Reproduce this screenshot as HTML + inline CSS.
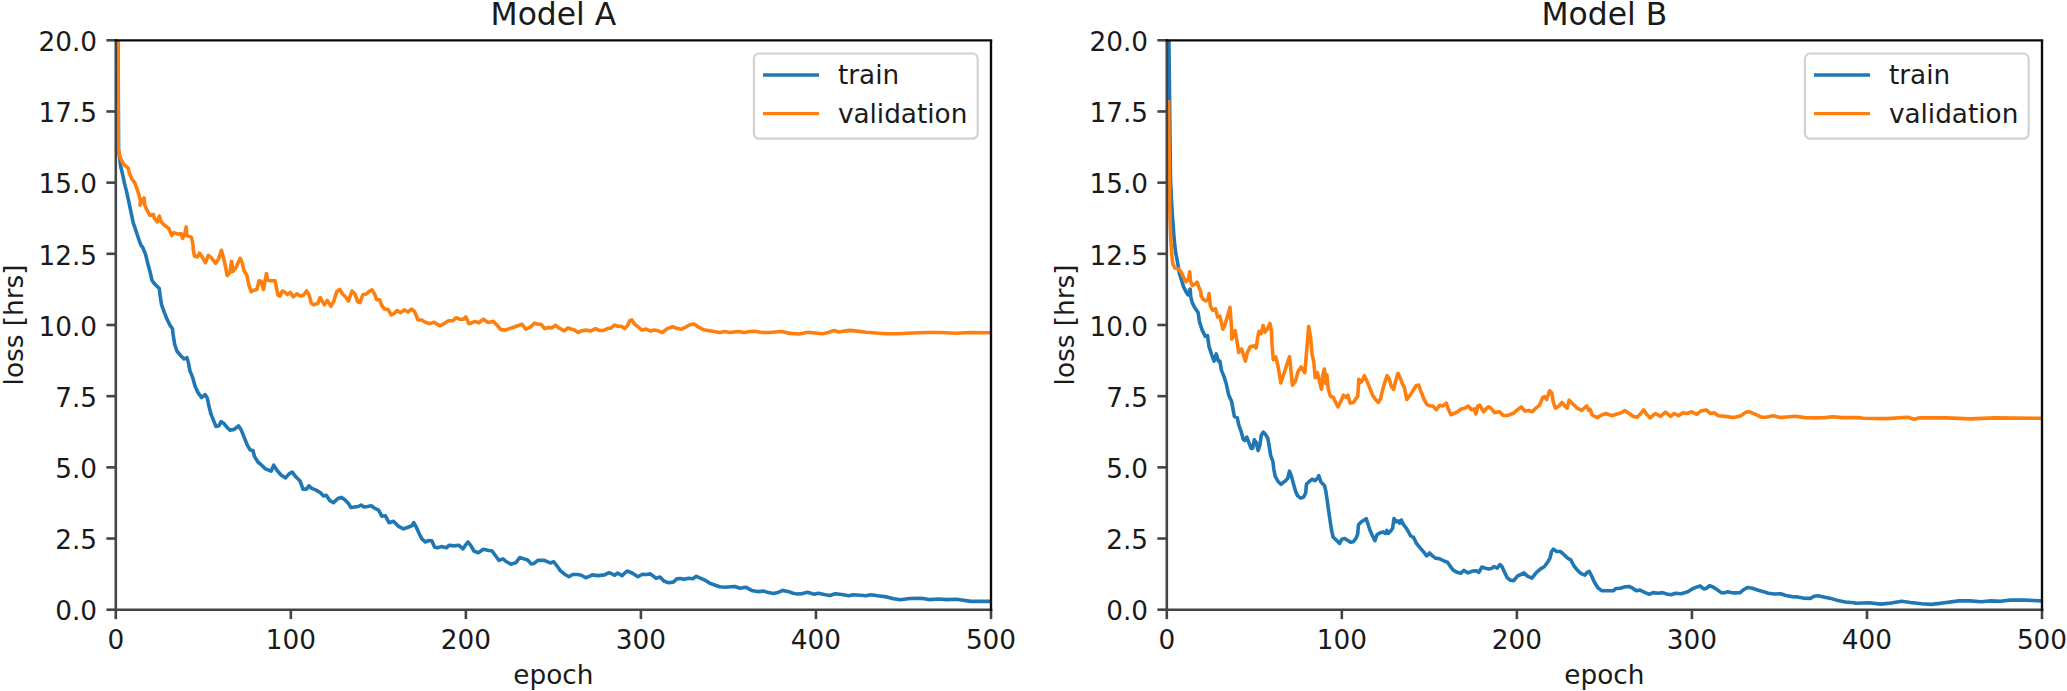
<!DOCTYPE html>
<html><head><meta charset="utf-8"><title>loss curves</title>
<style>
html,body{margin:0;padding:0;background:#fff;}
body{width:2067px;height:691px;overflow:hidden;}
svg{display:block;}
text{font-family:"DejaVu Sans","Liberation Sans",sans-serif;fill:#1a1a1a;}
</style></head><body>
<svg width="2067" height="691" viewBox="0 0 2067 691">
<rect width="2067" height="691" fill="#ffffff"/>

<g>
<clipPath id="clip0"><rect x="115.8" y="40.3" width="875.2" height="569.4000000000001"/></clipPath>
<polyline clip-path="url(#clip0)" points="118.0,30.0 118.6,150.0 120.8,167.0 122.3,173.2 124.5,183.4 126.7,192.1 128.9,202.2 131.0,212.4 133.2,222.6 136.1,231.3 139.0,240.0 141.2,245.8 142.7,247.3 145.6,254.5 147.7,263.2 149.9,271.2 152.1,280.6 155.0,284.3 159.3,288.6 160.1,295.2 161.5,304.6 164.4,312.6 167.3,319.8 170.2,325.6 172.4,328.5 173.1,334.3 174.7,344.5 176.9,351.0 180.5,355.4 184.1,359.0 187.0,357.6 188.5,363.4 189.9,370.6 192.8,377.9 195.0,385.9 197.9,392.4 201.5,397.5 205.2,394.6 207.3,398.2 208.8,405.5 211.0,414.2 213.9,421.4 216.0,426.5 218.9,425.8 221.1,421.7 224.0,423.6 226.9,427.2 229.8,430.1 234.2,429.4 238.5,425.8 241.4,430.3 244.3,437.6 247.2,444.8 250.1,449.9 253.0,450.6 254.4,456.4 258.1,462.2 262.4,465.9 265.3,468.8 271.1,471.2 273.7,465.2 276.9,470.2 281.3,475.3 285.6,477.9 289.3,473.6 292.2,472.1 295.8,476.8 300.1,481.1 303.0,489.1 306.7,489.1 308.9,485.8 311.8,488.4 316.1,490.1 320.5,492.7 323.4,495.9 326.3,495.3 329.9,500.7 333.5,502.6 337.9,498.5 341.5,497.4 345.1,500.0 348.0,502.9 350.9,507.5 354.6,507.0 358.2,506.5 361.1,505.1 364.0,507.0 367.6,506.5 371.3,505.8 374.2,508.0 378.5,510.1 381.8,516.1 385.4,515.8 389.0,522.7 393.4,521.2 398.5,526.3 403.5,528.9 408.6,527.0 412.2,525.6 413.7,522.7 415.9,526.3 418.8,532.8 421.7,538.6 425.3,542.0 428.9,540.5 431.8,540.8 434.7,547.3 437.6,547.8 441.3,546.6 446.4,547.8 449.3,545.2 454.3,545.9 458.7,545.2 463.0,548.8 466.0,544.4 468.1,542.0 471.0,545.9 473.9,551.0 478.3,552.7 483.4,549.2 487.7,550.2 492.1,551.0 495.7,556.0 499.0,560.4 503.0,558.9 506.6,561.8 510.9,564.3 516.0,562.6 519.7,557.5 524.0,558.9 527.6,560.0 531.3,564.0 534.2,563.3 537.8,560.4 544.3,560.4 550.1,562.9 553.8,561.8 556.7,565.5 560.3,570.6 564.6,574.2 569.0,576.8 572.6,574.5 577.7,574.5 581.3,575.3 585.7,577.8 589.3,576.4 592.2,574.9 598.0,575.6 604.6,574.9 608.9,572.7 612.5,574.2 614.7,575.3 617.6,573.0 622.0,575.6 627.1,571.0 632.1,573.0 637.9,576.8 642.3,574.2 646.6,574.5 650.3,573.9 656.1,578.2 660.0,577.1 663.8,581.0 668.1,582.7 673.2,582.1 676.9,578.8 680.5,578.5 684.1,579.2 688.5,578.3 692.8,578.8 696.4,576.3 700.8,578.3 705.9,580.7 709.5,583.1 714.6,585.0 719.7,586.8 725.5,587.2 730.6,586.8 734.9,586.5 740.0,588.2 745.8,587.2 751.6,590.4 757.4,591.6 763.9,591.1 768.3,592.6 773.4,593.6 777.7,592.6 782.8,590.4 787.9,591.4 793.0,593.3 797.3,594.0 802.4,593.6 807.5,592.3 814.0,594.3 818.4,593.3 824.2,594.5 830.0,595.5 835.1,593.7 841.6,594.5 848.8,595.8 853.2,594.7 860.4,595.2 866.3,595.8 870.6,594.7 877.9,595.8 886.6,596.9 893.8,598.8 900.4,599.8 909.8,598.5 921.0,598.2 929.1,599.6 938.7,599.0 946.7,599.6 956.4,599.3 970.8,601.4 990.9,601.4" fill="none" stroke="#1f77b4" stroke-width="3.6" stroke-linejoin="round" stroke-linecap="butt"/>
<polyline clip-path="url(#clip0)" points="118.0,30.0 118.2,148.7 120.4,158.3 123.4,163.6 124.5,165.2 128.1,168.1 129.6,173.9 131.8,179.0 134.7,182.7 136.9,188.5 139.0,195.0 140.5,200.8 140.0,205.2 142.2,200.8 144.1,197.9 144.8,205.2 147.0,210.2 149.9,215.3 153.5,214.6 154.3,218.2 157.2,221.8 159.3,216.0 160.8,221.1 163.0,224.0 165.9,226.2 168.8,228.4 171.7,235.6 173.9,232.7 177.5,234.2 181.1,233.5 182.6,238.5 184.7,234.2 186.2,226.9 186.9,235.6 189.1,236.4 191.3,237.1 192.7,242.9 193.5,250.1 193.1,248.9 194.5,256.1 197.4,256.9 199.6,253.2 202.5,257.6 205.4,262.7 208.3,255.4 211.2,257.6 215.6,263.4 218.5,259.0 221.4,250.3 223.5,257.6 225.7,267.7 227.2,275.7 230.1,272.1 231.5,261.2 233.0,271.4 235.9,267.7 238.8,261.2 240.2,258.3 242.4,263.4 243.9,270.6 246.8,275.0 248.9,285.2 251.1,291.7 254.0,290.2 256.9,289.5 259.1,280.8 261.3,281.5 263.5,289.5 266.4,273.5 267.8,280.1 270.7,280.8 275.1,280.8 276.5,288.1 278.0,295.3 280.1,296.0 282.3,291.0 285.2,292.4 287.4,294.6 290.3,292.4 293.2,296.8 296.8,293.9 300.5,296.0 303.4,295.3 306.6,291.0 309.2,295.3 311.3,303.3 313.5,304.7 317.9,303.3 320.1,297.5 322.2,301.1 324.4,304.7 327.3,300.4 330.9,306.2 333.8,301.1 336.7,291.7 339.7,289.5 342.6,293.9 345.5,296.8 348.4,301.1 352.0,291.0 354.9,293.9 357.8,301.8 360.0,302.6 362.9,294.6 366.5,293.9 368.7,291.7 371.9,289.8 374.5,293.9 376.7,299.7 379.6,299.7 381.7,305.5 384.6,309.1 388.3,309.8 391.2,314.9 394.1,313.5 397.0,310.6 400.6,312.7 404.2,309.8 407.9,312.0 411.5,309.1 414.4,311.3 418.0,320.0 421.7,320.0 425.3,322.2 429.6,323.6 434.0,322.2 439.8,325.8 444.2,323.6 448.5,320.7 452.9,320.7 455.8,317.8 460.1,319.3 463.7,319.3 465.9,316.8 468.8,323.6 470.0,323.5 475.1,321.4 478.7,322.8 483.4,319.2 488.1,322.4 493.2,321.4 496.9,325.0 500.8,329.6 505.6,330.1 509.2,328.6 513.5,327.2 517.9,325.7 522.0,324.3 525.9,329.1 530.2,327.2 534.6,323.1 538.2,324.3 541.1,324.3 544.7,328.6 548.4,327.6 552.0,327.9 555.3,325.3 559.3,328.2 564.3,330.8 568.0,327.9 571.6,329.3 574.5,330.1 578.1,332.5 581.8,330.8 586.1,330.1 590.5,331.1 595.5,328.6 599.2,330.4 603.5,330.5 607.9,328.3 610.8,328.2 614.4,325.0 618.0,326.2 621.7,326.4 624.6,328.6 627.5,325.7 629.7,320.6 631.8,319.9 634.7,324.3 638.4,327.2 642.0,330.1 646.3,329.1 650.7,331.1 654.3,330.1 658.0,330.8 662.3,332.5 667.4,328.6 672.5,326.7 676.8,328.3 681.2,329.3 685.5,327.2 689.9,324.7 694.2,324.0 698.6,327.2 703.7,329.8 709.5,330.8 715.3,331.8 719.6,332.5 724.7,331.5 729.8,332.5 738.5,331.5 744.3,332.5 750.1,331.5 755.2,331.2 761.7,332.5 768.7,332.5 781.8,331.5 790.5,333.4 799.2,334.0 807.9,332.2 815.2,333.0 822.4,333.7 828.2,332.5 834.0,330.5 839.1,332.0 844.2,331.1 850.0,330.4 857.2,331.1 866.0,332.2 876.1,333.0 886.3,333.7 897.9,333.7 912.4,333.0 926.9,332.5 941.4,332.5 955.9,333.3 970.4,332.5 990.8,332.7" fill="none" stroke="#ff7f0e" stroke-width="3.6" stroke-linejoin="round" stroke-linecap="butt"/>
<line x1="115.80" y1="609.7" x2="115.80" y2="619.1" stroke="#444" stroke-width="2.6"/>
<text x="115.80" y="648.90" font-size="26.3" text-anchor="middle">0</text>
<line x1="290.84" y1="609.7" x2="290.84" y2="619.1" stroke="#444" stroke-width="2.6"/>
<text x="290.84" y="648.90" font-size="26.3" text-anchor="middle">100</text>
<line x1="465.88" y1="609.7" x2="465.88" y2="619.1" stroke="#444" stroke-width="2.6"/>
<text x="465.88" y="648.90" font-size="26.3" text-anchor="middle">200</text>
<line x1="640.92" y1="609.7" x2="640.92" y2="619.1" stroke="#444" stroke-width="2.6"/>
<text x="640.92" y="648.90" font-size="26.3" text-anchor="middle">300</text>
<line x1="815.96" y1="609.7" x2="815.96" y2="619.1" stroke="#444" stroke-width="2.6"/>
<text x="815.96" y="648.90" font-size="26.3" text-anchor="middle">400</text>
<line x1="991.00" y1="609.7" x2="991.00" y2="619.1" stroke="#444" stroke-width="2.6"/>
<text x="991.00" y="648.90" font-size="26.3" text-anchor="middle">500</text>
<line x1="106.40" y1="609.70" x2="115.8" y2="609.70" stroke="#444" stroke-width="2.6"/>
<text x="97.10" y="620.40" font-size="26.3" text-anchor="end">0.0</text>
<line x1="106.40" y1="538.53" x2="115.8" y2="538.53" stroke="#444" stroke-width="2.6"/>
<text x="97.10" y="549.23" font-size="26.3" text-anchor="end">2.5</text>
<line x1="106.40" y1="467.35" x2="115.8" y2="467.35" stroke="#444" stroke-width="2.6"/>
<text x="97.10" y="478.05" font-size="26.3" text-anchor="end">5.0</text>
<line x1="106.40" y1="396.18" x2="115.8" y2="396.18" stroke="#444" stroke-width="2.6"/>
<text x="97.10" y="406.88" font-size="26.3" text-anchor="end">7.5</text>
<line x1="106.40" y1="325.00" x2="115.8" y2="325.00" stroke="#444" stroke-width="2.6"/>
<text x="97.10" y="335.70" font-size="26.3" text-anchor="end">10.0</text>
<line x1="106.40" y1="253.82" x2="115.8" y2="253.82" stroke="#444" stroke-width="2.6"/>
<text x="97.10" y="264.52" font-size="26.3" text-anchor="end">12.5</text>
<line x1="106.40" y1="182.65" x2="115.8" y2="182.65" stroke="#444" stroke-width="2.6"/>
<text x="97.10" y="193.35" font-size="26.3" text-anchor="end">15.0</text>
<line x1="106.40" y1="111.47" x2="115.8" y2="111.47" stroke="#444" stroke-width="2.6"/>
<text x="97.10" y="122.17" font-size="26.3" text-anchor="end">17.5</text>
<line x1="106.40" y1="40.30" x2="115.8" y2="40.30" stroke="#444" stroke-width="2.6"/>
<text x="97.10" y="51.00" font-size="26.3" text-anchor="end">20.0</text>
<path d="M115.8,40.3 V609.7 H991.0" fill="none" stroke="#444" stroke-width="2.6" stroke-linecap="square"/>
<line x1="991.0" y1="40.3" x2="991.0" y2="611.0" stroke="#0a0a0a" stroke-width="2.35"/>
<line x1="114.6" y1="40.3" x2="992.2" y2="40.3" stroke="#0a0a0a" stroke-width="2.35"/>
<text x="553.40" y="24.6" font-size="31.4" text-anchor="middle">Model A</text>
<text x="553.40" y="683.6" font-size="26.3" text-anchor="middle">epoch</text>
<text transform="translate(23.10,325.00) rotate(-90)" font-size="26.3" text-anchor="middle">loss [hrs]</text>
<rect x="753.90" y="53.5" width="223.8" height="85.2" rx="5.3" ry="5.3" fill="#fff" stroke="#d2d2d2" stroke-width="2.2"/>
<line x1="764.60" y1="75" x2="817.40" y2="75" stroke="#1f77b4" stroke-width="3.3" stroke-linecap="square"/>
<line x1="764.60" y1="113.6" x2="817.40" y2="113.6" stroke="#ff7f0e" stroke-width="3.3" stroke-linecap="square"/>
<text x="837.90" y="84.4" font-size="26.3">train</text>
<text x="837.90" y="123.0" font-size="26.3">validation</text>
</g>
<g>
<clipPath id="clip1"><rect x="1166.8" y="40.3" width="875.2" height="569.4000000000001"/></clipPath>
<polyline clip-path="url(#clip1)" points="1168.8,30.0 1170.5,180.0 1172.0,210.0 1173.1,224.5 1174.1,239.0 1175.6,252.1 1177.8,263.7 1179.2,272.4 1181.4,279.7 1183.6,286.9 1185.8,291.3 1187.9,294.9 1190.1,289.1 1190.8,297.1 1192.3,302.9 1194.5,307.2 1198.1,312.5 1199.5,321.9 1202.4,330.6 1205.3,336.4 1207.5,335.7 1209.0,346.6 1211.9,355.3 1214.1,361.1 1216.2,353.9 1218.4,361.1 1219.9,361.1 1221.3,369.8 1224.2,377.1 1226.4,384.3 1228.6,394.7 1231.5,401.2 1233.0,409.2 1234.4,416.4 1237.3,417.9 1238.8,425.2 1241.0,431.0 1243.1,438.9 1244.6,440.4 1246.8,437.1 1248.9,442.6 1251.1,448.4 1252.6,448.4 1254.3,439.7 1256.2,442.6 1258.1,450.6 1259.8,445.5 1261.3,435.3 1263.2,432.1 1265.6,434.6 1267.8,438.2 1269.3,446.9 1270.7,455.6 1272.9,461.4 1273.8,469.0 1275.2,476.3 1278.1,481.4 1281.0,484.3 1284.7,481.4 1287.6,478.5 1289.5,471.2 1291.2,475.6 1293.4,483.5 1295.6,491.5 1297.7,495.9 1300.6,498.1 1303.5,497.3 1305.7,493.0 1306.4,484.3 1309.3,481.4 1312.2,479.2 1315.2,480.6 1317.3,478.5 1318.8,475.6 1321.0,482.1 1324.6,485.7 1326.0,492.2 1327.5,502.4 1328.9,512.6 1330.4,522.7 1331.8,531.4 1333.1,537.0 1336.7,540.6 1339.6,543.5 1341.8,539.2 1344.7,538.5 1347.6,540.3 1350.5,542.1 1353.4,541.8 1356.3,537.7 1357.7,534.1 1358.5,524.7 1361.4,521.8 1364.3,520.0 1366.2,518.6 1367.9,523.9 1370.1,530.5 1373.0,537.0 1374.9,540.6 1376.9,534.8 1380.2,532.7 1383.1,531.9 1385.3,533.4 1386.8,530.5 1388.2,533.4 1391.1,530.5 1392.6,528.3 1394.0,518.6 1396.2,521.8 1398.4,521.0 1399.8,523.2 1401.3,520.0 1403.5,524.7 1406.4,528.3 1409.3,533.4 1410.7,536.0 1413.6,537.4 1416.5,543.5 1420.1,547.9 1423.8,552.2 1426.7,555.9 1429.6,553.0 1432.5,555.9 1435.4,558.1 1439.7,558.8 1444.1,561.0 1447.7,562.4 1450.6,566.8 1453.5,570.4 1457.2,572.3 1460.8,573.3 1463.7,570.4 1468.0,572.9 1472.4,571.1 1476.0,570.7 1478.9,572.3 1481.8,567.1 1485.5,568.2 1489.1,568.9 1492.0,568.2 1494.2,566.5 1497.1,568.2 1500.0,564.6 1502.1,566.8 1504.3,571.8 1507.2,577.6 1510.1,580.1 1513.8,580.6 1517.4,576.2 1521.0,574.3 1523.9,572.9 1527.5,576.2 1531.9,578.1 1536.3,572.6 1540.6,568.9 1544.2,566.8 1547.9,561.7 1550.0,558.1 1551.5,551.5 1553.4,549.1 1556.6,551.5 1560.2,551.5 1563.8,554.4 1567.5,558.1 1570.8,559.8 1574.0,566.0 1577.6,570.4 1581.2,573.7 1584.9,575.2 1587.1,572.3 1589.2,571.4 1591.4,575.5 1594.3,582.0 1597.9,587.8 1601.6,590.7 1605.9,590.7 1613.2,590.7 1616.1,588.5 1620.0,588.2 1625.4,586.8 1629.0,586.5 1632.7,588.2 1636.3,590.8 1639.9,590.0 1643.5,591.8 1649.3,594.3 1653.0,592.6 1658.1,593.3 1662.4,592.6 1666.8,594.0 1671.1,594.7 1675.5,593.3 1681.3,593.7 1687.8,591.8 1692.2,588.9 1696.5,587.1 1700.1,586.0 1703.8,588.9 1706.7,588.2 1709.6,585.6 1713.9,587.5 1717.6,590.0 1721.2,592.6 1724.1,592.9 1727.7,591.8 1733.5,592.9 1740.1,592.6 1743.7,589.7 1747.3,587.5 1752.4,588.2 1757.5,590.0 1762.6,591.4 1768.4,593.3 1774.2,594.0 1780.7,593.7 1785.8,595.5 1791.6,596.6 1797.4,596.9 1803.2,598.1 1810.4,598.4 1814.1,596.2 1817.7,595.8 1823.5,596.9 1830.8,598.4 1838.0,600.6 1845.3,602.0 1854.0,602.7 1855.9,603.3 1868.7,602.8 1880.8,604.1 1891.2,603.0 1901.7,601.2 1910.5,602.5 1921.8,603.8 1931.4,604.4 1942.7,603.0 1958.7,600.9 1970.0,600.9 1981.2,601.7 1990.9,600.9 2000.5,601.2 2010.1,600.1 2024.6,600.1 2041.5,600.9" fill="none" stroke="#1f77b4" stroke-width="3.6" stroke-linejoin="round" stroke-linecap="butt"/>
<polyline clip-path="url(#clip1)" points="1168.6,100.0 1169.8,210.0 1170.2,224.5 1170.8,239.0 1171.7,253.5 1172.7,263.7 1174.9,268.1 1178.5,268.8 1181.4,272.4 1183.6,277.5 1185.8,281.8 1188.7,278.2 1189.7,271.7 1190.5,281.1 1192.3,285.5 1195.2,284.0 1197.1,282.1 1198.8,286.9 1201.0,292.7 1201.0,295.8 1203.2,299.4 1206.1,300.9 1208.0,299.4 1209.0,293.6 1210.4,306.0 1212.6,310.3 1215.5,308.9 1217.7,316.9 1219.9,316.1 1222.8,329.2 1224.9,324.8 1227.1,317.6 1230.0,307.4 1231.5,327.7 1231.8,339.3 1235.1,330.6 1236.6,339.3 1238.7,352.4 1241.6,348.8 1245.3,361.1 1247.4,352.4 1250.3,346.6 1254.7,345.9 1256.1,348.1 1257.6,337.9 1259.0,331.4 1261.2,333.5 1263.1,325.6 1264.9,332.1 1267.8,328.5 1269.9,323.4 1271.4,330.6 1272.1,345.2 1273.3,359.7 1275.7,356.8 1277.9,365.5 1280.8,382.9 1283.7,374.2 1286.6,365.5 1289.5,356.8 1291.0,371.3 1292.4,385.1 1295.3,381.4 1298.2,371.3 1301.1,366.9 1304.8,372.7 1306.9,348.1 1308.7,326.3 1310.6,337.9 1312.0,353.9 1313.8,361.8 1315.2,377.7 1317.4,372.7 1319.6,382.1 1321.5,389.3 1322.5,376.3 1324.4,369.0 1325.8,383.5 1326.9,374.8 1328.3,389.3 1330.5,396.6 1333.4,397.3 1335.6,402.4 1338.0,406.8 1340.6,401.7 1343.5,395.2 1345.7,397.3 1347.9,395.2 1350.1,403.1 1353.7,402.4 1355.9,398.8 1357.8,395.9 1358.8,379.2 1361.0,382.1 1362.4,380.6 1364.3,375.6 1366.8,380.6 1369.7,387.9 1372.6,395.2 1375.5,399.5 1378.4,402.4 1380.6,398.8 1382.7,389.3 1384.9,382.1 1387.1,375.6 1389.3,379.2 1391.4,386.4 1393.6,389.3 1395.8,380.6 1398.0,373.4 1400.1,377.7 1402.3,383.5 1404.5,387.9 1406.7,399.5 1409.6,395.9 1412.5,391.5 1416.1,385.7 1418.7,385.0 1421.2,392.2 1424.1,399.5 1427.0,404.6 1429.9,406.0 1432.8,406.0 1436.4,409.7 1439.6,405.3 1443.0,406.0 1446.3,403.1 1448.0,408.2 1450.9,414.7 1454.6,413.3 1457.5,411.8 1461.1,408.9 1464.7,408.2 1468.4,406.0 1471.3,409.7 1474.2,408.9 1475.9,414.0 1477.8,406.0 1480.0,405.3 1483.6,411.8 1485.8,408.9 1488.7,406.8 1491.6,408.9 1494.5,412.6 1499.6,411.8 1503.2,415.5 1507.5,415.5 1513.4,413.3 1517.7,409.7 1521.3,406.8 1525.0,411.1 1528.6,410.4 1532.2,411.8 1535.8,408.2 1539.5,405.3 1542.4,398.1 1544.6,396.6 1546.7,399.5 1549.6,390.8 1551.8,393.0 1553.3,402.4 1555.4,408.2 1559.1,406.0 1562.0,402.4 1564.9,406.0 1567.1,408.2 1569.2,400.2 1572.9,403.9 1577.2,408.2 1581.6,410.4 1586.6,406.0 1588.8,410.4 1590.0,409.2 1592.2,415.0 1597.3,417.6 1601.6,415.0 1606.0,413.5 1611.8,415.7 1616.1,414.3 1621.2,412.8 1624.8,410.6 1629.2,413.5 1632.8,416.2 1637.2,417.2 1640.1,414.3 1643.7,409.9 1646.6,414.3 1650.2,417.9 1655.3,413.5 1660.4,416.4 1665.5,412.1 1670.6,416.4 1674.2,413.5 1678.5,415.7 1682.9,412.8 1687.2,413.5 1691.6,411.8 1696.7,414.3 1701.0,410.9 1706.1,409.9 1710.5,413.5 1714.1,412.8 1718.4,415.7 1725.0,416.4 1733.7,417.6 1740.9,415.7 1746.0,412.1 1749.7,411.8 1755.5,414.3 1761.3,417.2 1765.6,417.2 1773.6,415.7 1780.1,417.6 1788.8,416.7 1795.4,416.2 1804.8,417.6 1815.0,417.9 1825.1,417.6 1832.4,416.7 1842.5,417.6 1858.5,417.6 1863.3,418.2 1886.9,418.6 1907.8,417.2 1914.0,419.3 1918.9,417.9 1946.7,417.9 1970.3,418.9 1995.3,417.9 2041.8,418.3" fill="none" stroke="#ff7f0e" stroke-width="3.6" stroke-linejoin="round" stroke-linecap="butt"/>
<line x1="1166.80" y1="609.7" x2="1166.80" y2="619.1" stroke="#444" stroke-width="2.6"/>
<text x="1166.80" y="648.90" font-size="26.3" text-anchor="middle">0</text>
<line x1="1341.84" y1="609.7" x2="1341.84" y2="619.1" stroke="#444" stroke-width="2.6"/>
<text x="1341.84" y="648.90" font-size="26.3" text-anchor="middle">100</text>
<line x1="1516.88" y1="609.7" x2="1516.88" y2="619.1" stroke="#444" stroke-width="2.6"/>
<text x="1516.88" y="648.90" font-size="26.3" text-anchor="middle">200</text>
<line x1="1691.92" y1="609.7" x2="1691.92" y2="619.1" stroke="#444" stroke-width="2.6"/>
<text x="1691.92" y="648.90" font-size="26.3" text-anchor="middle">300</text>
<line x1="1866.96" y1="609.7" x2="1866.96" y2="619.1" stroke="#444" stroke-width="2.6"/>
<text x="1866.96" y="648.90" font-size="26.3" text-anchor="middle">400</text>
<line x1="2042.00" y1="609.7" x2="2042.00" y2="619.1" stroke="#444" stroke-width="2.6"/>
<text x="2042.00" y="648.90" font-size="26.3" text-anchor="middle">500</text>
<line x1="1157.40" y1="609.70" x2="1166.8" y2="609.70" stroke="#444" stroke-width="2.6"/>
<text x="1148.10" y="620.40" font-size="26.3" text-anchor="end">0.0</text>
<line x1="1157.40" y1="538.53" x2="1166.8" y2="538.53" stroke="#444" stroke-width="2.6"/>
<text x="1148.10" y="549.23" font-size="26.3" text-anchor="end">2.5</text>
<line x1="1157.40" y1="467.35" x2="1166.8" y2="467.35" stroke="#444" stroke-width="2.6"/>
<text x="1148.10" y="478.05" font-size="26.3" text-anchor="end">5.0</text>
<line x1="1157.40" y1="396.18" x2="1166.8" y2="396.18" stroke="#444" stroke-width="2.6"/>
<text x="1148.10" y="406.88" font-size="26.3" text-anchor="end">7.5</text>
<line x1="1157.40" y1="325.00" x2="1166.8" y2="325.00" stroke="#444" stroke-width="2.6"/>
<text x="1148.10" y="335.70" font-size="26.3" text-anchor="end">10.0</text>
<line x1="1157.40" y1="253.82" x2="1166.8" y2="253.82" stroke="#444" stroke-width="2.6"/>
<text x="1148.10" y="264.52" font-size="26.3" text-anchor="end">12.5</text>
<line x1="1157.40" y1="182.65" x2="1166.8" y2="182.65" stroke="#444" stroke-width="2.6"/>
<text x="1148.10" y="193.35" font-size="26.3" text-anchor="end">15.0</text>
<line x1="1157.40" y1="111.47" x2="1166.8" y2="111.47" stroke="#444" stroke-width="2.6"/>
<text x="1148.10" y="122.17" font-size="26.3" text-anchor="end">17.5</text>
<line x1="1157.40" y1="40.30" x2="1166.8" y2="40.30" stroke="#444" stroke-width="2.6"/>
<text x="1148.10" y="51.00" font-size="26.3" text-anchor="end">20.0</text>
<path d="M1166.8,40.3 V609.7 H2042.0" fill="none" stroke="#444" stroke-width="2.6" stroke-linecap="square"/>
<line x1="2042.0" y1="40.3" x2="2042.0" y2="611.0" stroke="#0a0a0a" stroke-width="2.35"/>
<line x1="1165.6" y1="40.3" x2="2043.2" y2="40.3" stroke="#0a0a0a" stroke-width="2.35"/>
<text x="1604.40" y="24.6" font-size="31.4" text-anchor="middle">Model B</text>
<text x="1604.40" y="683.6" font-size="26.3" text-anchor="middle">epoch</text>
<text transform="translate(1074.10,325.00) rotate(-90)" font-size="26.3" text-anchor="middle">loss [hrs]</text>
<rect x="1804.90" y="53.5" width="223.8" height="85.2" rx="5.3" ry="5.3" fill="#fff" stroke="#d2d2d2" stroke-width="2.2"/>
<line x1="1815.60" y1="75" x2="1868.40" y2="75" stroke="#1f77b4" stroke-width="3.3" stroke-linecap="square"/>
<line x1="1815.60" y1="113.6" x2="1868.40" y2="113.6" stroke="#ff7f0e" stroke-width="3.3" stroke-linecap="square"/>
<text x="1888.90" y="84.4" font-size="26.3">train</text>
<text x="1888.90" y="123.0" font-size="26.3">validation</text>
</g>
</svg></body></html>
